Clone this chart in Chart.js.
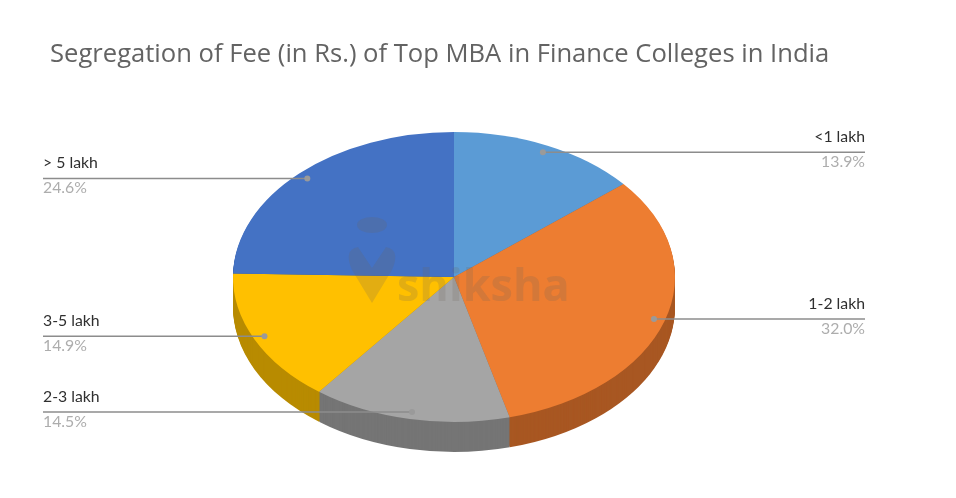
<!DOCTYPE html>
<html><head><meta charset="utf-8">
<style>html,body{margin:0;padding:0;background:#fff}#wrap{width:956px;height:498px}</style>
<script src="https://cdn.jsdelivr.net/npm/chart.js@4"></script>
</head><body><div id="wrap"><canvas id="c" width="956" height="498"></canvas></div>
<script>
const titleText = "Segregation of Fee (in Rs.) of Top MBA in Finance Colleges in India";
const categories = ["<1 lakh", "1-2 lakh", "2-3 lakh", "3-5 lakh", "> 5 lakh"];
const shares = [13.9, 32.0, 14.5, 14.9, 24.6];
const sliceColors = ["#5B9BD5", "#ED7D31", "#A5A5A5", "#FFC000", "#4472C4"];
const sideColors = ["#41729f", "#A85722", "#757575", "#B88B00", "#31548f"];
const watermark = "shiksha";

const CX = 454, CY = 277, RX = 221, RY = 145, DEPTH = 30;
const LEFT_X = 43, RIGHT_X = 865;

function project(ctx, arc) {
  const R = arc.outerRadius;
  ctx.translate(CX, CY);
  ctx.scale(RX / R, RY / R);
  ctx.translate(-arc.x, -arc.y);
}
function drawWatermark(ctx) {
  ctx.save();
  ctx.fillStyle = "rgba(110,100,90,0.2)";
  ctx.font = "bold 45px 'Open Sans'";
  ctx.textAlign = "left"; ctx.textBaseline = "alphabetic";
  ctx.fillText(watermark, 397, 301);
  // emblem: cap and pointed body
  ctx.beginPath(); ctx.ellipse(372, 225, 15, 8, 0, 0, Math.PI * 2); ctx.fill();
  ctx.beginPath();
  ctx.moveTo(372, 303);
  ctx.lineTo(352, 270);
  ctx.quadraticCurveTo(343, 250, 358, 247);
  ctx.lineTo(372, 268);
  ctx.lineTo(386, 247);
  ctx.quadraticCurveTo(401, 250, 392, 270);
  ctx.closePath(); ctx.fill();
  ctx.restore();
}
const pie3d = {
  id: "pie3d",
  beforeDatasetsDraw(chart) {
    const ctx = chart.ctx, arcs = chart.getDatasetMeta(0).data;
    for (let d = DEPTH; d >= 1; d--) {
      arcs.forEach((a, i) => {
        ctx.save();
        ctx.translate(0, d);
        project(ctx, a);
        ctx.fillStyle = sideColors[i];
        ctx.beginPath();
        ctx.moveTo(a.x, a.y);
        ctx.arc(a.x, a.y, a.outerRadius, a.startAngle, a.endAngle);
        ctx.closePath();
        ctx.fill();
        ctx.restore();
      });
    }
    ctx.save();
    project(ctx, arcs[0]);
  },
  afterDatasetsDraw(chart) {
    const ctx = chart.ctx;
    ctx.restore();
    const arcs = chart.getDatasetMeta(0).data;
    drawWatermark(ctx);
    arcs.forEach((a, i) => {
      const mid = (a.startAngle + a.endAngle) / 2;
      const x = CX + 0.95 * RX * Math.cos(mid);
      const y = CY + 0.95 * RY * Math.sin(mid);
      const right = x > CX;
      const endX = right ? RIGHT_X : LEFT_X;
      ctx.save();
      ctx.strokeStyle = "#8c8c8c"; ctx.lineWidth = 1.4;
      ctx.beginPath(); ctx.moveTo(x, y); ctx.lineTo(endX, y); ctx.stroke();
      ctx.fillStyle = "#9a9a9a";
      ctx.beginPath(); ctx.arc(x, y, 3, 0, Math.PI * 2); ctx.fill();
      ctx.textAlign = right ? "right" : "left";
      ctx.textBaseline = "alphabetic";
      ctx.font = "15.8px Lato";
      ctx.fillStyle = "#2f2f2f";
      ctx.fillText(categories[i], endX, y - 10);
      ctx.fillStyle = "#adadad";
      ctx.fillText(shares[i].toFixed(1) + "%", endX, y + 15);
      ctx.restore();
    });
  }
};

new Chart(document.getElementById("c"), {
  type: "pie",
  data: { labels: categories, datasets: [{ data: shares, backgroundColor: sliceColors, borderWidth: 0 }] },
  options: {
    responsive: false, animation: false,
    layout: { padding: { left: 50, right: 98, top: 0, bottom: 5 } },
    plugins: {
      legend: { display: false }, tooltip: { enabled: false },
      title: { display: true, text: titleText, align: "start", color: "#636363",
        font: { family: "'Open Sans'", size: 25.6, weight: "normal" },
        padding: { top: 39, bottom: 20 } }
    }
  },
  plugins: [pie3d]
});
</script></body></html>
